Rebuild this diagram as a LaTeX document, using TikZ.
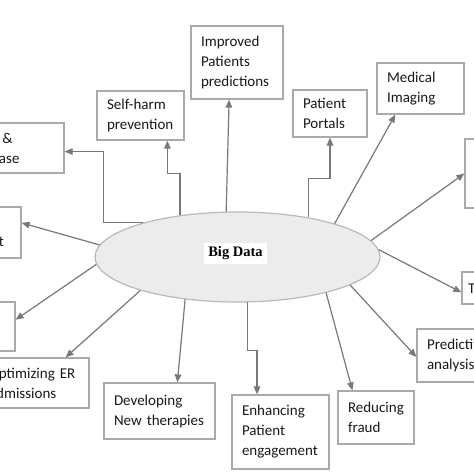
\documentclass[tikz,border=0pt]{standalone}
\usepackage{fontspec}
\newfontfamily\boxfont{Carlito}
\newfontfamily\hubfont{Liberation Serif}
\usetikzlibrary{arrows.meta,shapes.geometric}
\definecolor{boxline}{RGB}{170,170,170}
\definecolor{linkgray}{RGB}{120,120,120}
\definecolor{hubfill}{RGB}{236,236,236}
\definecolor{hubline}{RGB}{185,185,185}

\tikzset{
  appbox/.style={draw=boxline, line width=1.2pt, fill=white, align=left, inner xsep=10pt, inner ysep=0pt, font=\boxfont\fontsize{15}{20}\selectfont, text=black!90},
  link/.style={draw=linkgray, line width=1.2pt, -{Triangle[length=8pt,width=6.5pt]}},
}

\begin{document}
\begin{tikzpicture}[x=1pt,y=1pt,yscale=-1,xscale=1]
  \useasboundingbox (0,0) rectangle (474,474);
  \clip (0,0) rectangle (474,474);

  %Shape: Ellipse
  \node[ellipse, draw=hubline, fill=hubfill, line width=1.2pt, minimum width=285pt, minimum height=90pt] (hub) at (237.5,257) {};
  \node[fill=white, inner sep=4pt, font=\hubfont\bfseries\fontsize{14.5}{16}\selectfont] (bigdata) at (235.5,253.5) {Big Data};

  %Shape: Rectangles (top)
  \node[appbox, text width=72pt, minimum height=73pt] (improved) at (237,62.5) {Improved\\Patients\\predictions};
  \node[appbox, text width=67pt, minimum height=49pt] (selfharm) at (140.5,115.5) {Self-harm\\prevention};
  \node[appbox, text width=54pt, minimum height=47pt] (portals) at (330,113.5) {Patient\\Portals};
  \node[appbox, text width=67pt, minimum height=51pt] (medical) at (420.5,88.5) {Medical\\Imaging};

  %Shape: Rectangles (left)
  \node[appbox, text width=81pt, minimum height=50pt] (risk) at (13.5,148) {Risk \&\\Disease};
  \node[appbox, text width=88pt, minimum height=51pt] (staff) at (-33,232.5) {Staffing\\management};
  \node[appbox, text width=75pt, minimum height=49pt] (lowleft) at (-32.5,326.5) {};
  \node[appbox, text width=90pt, minimum height=50pt] (optimizing) at (34,383) {Optimizing ER\\admissions};

  %Shape: Rectangles (bottom)
  \node[appbox, text width=91pt, minimum height=56pt] (developing) at (159.5,411) {Developing\\New therapies};
  \node[appbox, text width=77pt, minimum height=74pt] (enhancing) at (280.5,432) {Enhancing\\Patient\\engagement};
  \node[appbox, text width=56pt, minimum height=53pt] (reducing) at (376,417.5) {Reducing\\fraud};

  %Shape: Rectangles (right)
  \node[appbox, text width=63pt, minimum height=53pt] (predictive) at (458.5,355.5) {Predictive\\analysis};
  \node[appbox, inner xsep=6pt, text width=86pt, minimum height=32pt] (tele) at (511,288) {Telemedicine};
  \node[appbox, text width=75pt, minimum height=69pt] (upperright) at (512.5,173.5) {};

  %Straight Lines
  \draw[link] (hub.104.4) -- (improved.-102);
  \draw[link] (hub.144.4) -- ++(0,-42) -| (selfharm.-43);
  \draw[link] (hub.160) -- ++(-40,0) |- (risk.-4.5);
  \draw[link] (hub.175) -- (staff.10);
  \draw[link] (hub.183) -- (lowleft.8);
  \draw[link] (hub.199.3) -- (optimizing.39);
  \draw[link] (hub.219.8) -- (developing.58);
  \draw[link] (hub.282) -- ++(0,48) -| (enhancing.122);
  \draw[link] (hub.338) -- (reducing.131);
  \draw[link] (hub.346) -- (predictive.182);
  \draw[link] (hub.3) -- (tele.185);
  \draw[link] (hub.7.5) -- (upperright.west);
  \draw[link] (hub.19.3) -- (medical.226);
  \draw[link] (hub.29) -- ++(0,-39) -| (portals.south);

\end{tikzpicture}
\end{document}
